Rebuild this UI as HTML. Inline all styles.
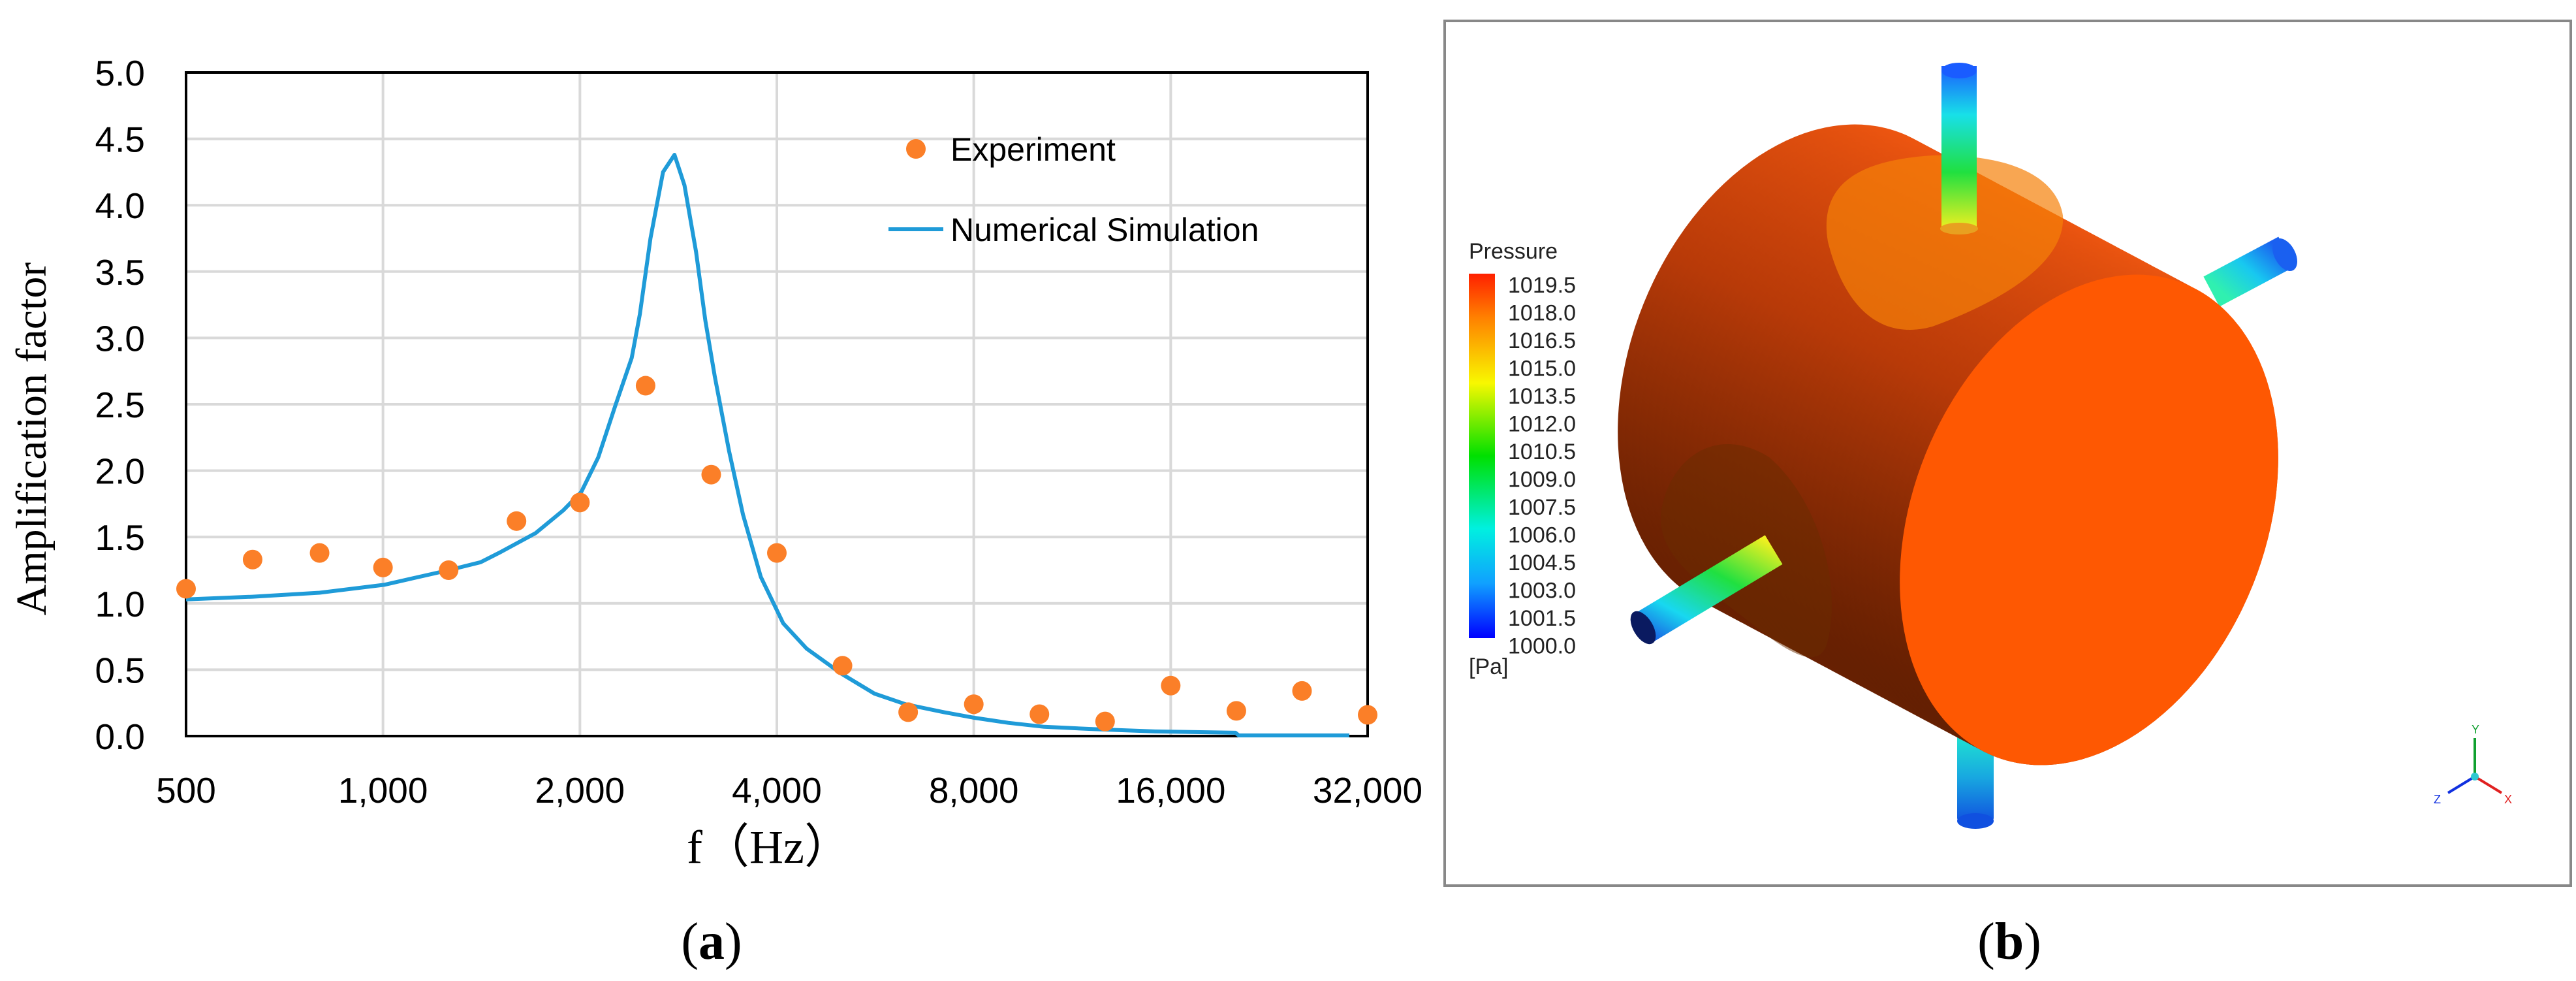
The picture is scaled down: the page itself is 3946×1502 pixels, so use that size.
<!DOCTYPE html>
<html><head><meta charset="utf-8"><style>
html,body{margin:0;padding:0;background:#fff}
svg{display:block}
</style></head><body>
<svg id="fig" width="3946" height="1502" viewBox="0 0 3946 1502" xmlns="http://www.w3.org/2000/svg">
<defs>
<linearGradient id="sideGrad" gradientUnits="userSpaceOnUse" x1="3000" y1="300" x2="2650" y2="1050">
<stop offset="0" stop-color="#ec5510"/><stop offset="0.45" stop-color="#b83a08"/><stop offset="1" stop-color="#4e1800"/>
</linearGradient>
<linearGradient id="pipeV" x1="0" y1="0" x2="0" y2="1">
<stop offset="0" stop-color="#1a5cff"/><stop offset="0.3" stop-color="#18e0e8"/><stop offset="0.65" stop-color="#20e040"/><stop offset="1" stop-color="#f0f020"/>
</linearGradient>
<linearGradient id="pipeB" x1="0" y1="0" x2="0" y2="1">
<stop offset="0" stop-color="#20e8d0"/><stop offset="0.5" stop-color="#18a8e0"/><stop offset="1" stop-color="#1050e0"/>
</linearGradient>
<linearGradient id="pipeL" gradientUnits="userSpaceOnUse" x1="2508" y1="963" x2="2709" y2="847">
<stop offset="0" stop-color="#1a40e0"/><stop offset="0.3" stop-color="#18d8f0"/><stop offset="0.65" stop-color="#20e040"/><stop offset="1" stop-color="#f0f020"/>
</linearGradient>
<linearGradient id="pipeR" gradientUnits="userSpaceOnUse" x1="3397" y1="433" x2="3498" y2="395">
<stop offset="0" stop-color="#30f0b0"/><stop offset="0.5" stop-color="#18c8f0"/><stop offset="1" stop-color="#1a60f0"/>
</linearGradient>
<linearGradient id="cbar" x1="0" y1="0" x2="0" y2="1">
<stop offset="0" stop-color="#ff2000"/><stop offset="0.12" stop-color="#ff8000"/><stop offset="0.3" stop-color="#f8f800"/><stop offset="0.5" stop-color="#00e000"/><stop offset="0.7" stop-color="#00f0e0"/><stop offset="0.85" stop-color="#10a0ff"/><stop offset="1" stop-color="#0000ff"/>
</linearGradient>
<clipPath id="bodyClip"><path id="bodyClipPath" d=""/></clipPath>
</defs>

<g id="chartA">
<g id="grid"></g>
<rect x="285" y="111" width="1810" height="1016" fill="none" stroke="#000" stroke-width="4"/>
<g id="yticks" font-family="Liberation Sans, sans-serif" font-size="55" text-anchor="end"></g>
<g id="xticks" font-family="Liberation Sans, sans-serif" font-size="55" text-anchor="middle"></g>
<path id="simLine" fill="none" stroke="#1f9bd8" stroke-width="6" stroke-linejoin="round"/>
<g id="expPts" fill="#fb7f28"></g>
<g font-family="Liberation Sans, sans-serif" font-size="50">
<circle cx="1403" cy="228" r="15" fill="#fb7f28"/>
<text x="1456" y="246">Experiment</text>
<line x1="1361" y1="351" x2="1445" y2="351" stroke="#1f9bd8" stroke-width="6"/>
<text x="1456" y="369">Numerical Simulation</text>
</g>
<text transform="translate(70,672) rotate(-90)" text-anchor="middle" font-family="Liberation Serif, serif" font-size="66">Amplification  factor</text>
<text x="1178" y="1321" text-anchor="middle" font-family="Liberation Serif, serif" font-size="72">f（Hz）</text>
<text x="1090" y="1468" text-anchor="middle" font-family="Liberation Serif, serif" font-size="80">(<tspan font-weight="bold">a</tspan>)</text>
</g>

<g id="panelB">
<rect x="2213" y="32" width="1725" height="1324" fill="#fff" stroke="#888" stroke-width="4"/>
<rect x="2998" y="1120" width="56" height="140" rx="8" fill="url(#pipeB)"/>
<ellipse cx="3026" cy="1257" rx="28" ry="12" fill="#1050e0"/>
<rect x="3380" y="390" width="130" height="52" fill="url(#pipeR)" transform="rotate(-28 3445 416)"/>
<ellipse cx="3500" cy="390" rx="16" ry="27" fill="#1a60f0" transform="rotate(-28 3500 390)"/>
<g id="body"></g>
<path d="M2800,370 C2785,280 2850,245 2960,238 C3080,236 3150,270 3160,330 C3165,400 3070,460 2960,500 C2880,522 2825,470 2800,370 Z" fill="#f58008" opacity="0.7"/>
<path d="M2545,780 C2560,700 2630,650 2710,700 C2790,770 2820,900 2800,980 C2790,1030 2740,1000 2690,960 C2600,890 2535,850 2545,780 Z" fill="#6a2c00" opacity="0.5"/>
<ellipse cx="3200" cy="796" rx="270" ry="390" fill="#fe5802" transform="rotate(22 3200 796)"/>
<rect x="2974" y="101" width="54" height="250" fill="url(#pipeV)"/>
<ellipse cx="3001" cy="108" rx="27" ry="12" fill="#1a5cff"/>
<ellipse cx="3001" cy="350" rx="29" ry="9" fill="#e8a020"/>
<rect x="2505" y="880" width="230" height="52" fill="url(#pipeL)" transform="rotate(-31 2610 906)"/>
<ellipse cx="2517" cy="961" rx="15" ry="28" fill="#0a1a60" transform="rotate(-31 2517 961)"/>
<text x="2250" y="396" font-family="Liberation Sans, sans-serif" font-size="34" fill="#222">Pressure</text>
<rect x="2250" y="419" width="40" height="558" fill="url(#cbar)"/>
<g id="cbLabels" font-family="Liberation Sans, sans-serif" font-size="34" fill="#222"></g>
<text x="2250" y="1032" font-family="Liberation Sans, sans-serif" font-size="34" fill="#222">[Pa]</text>
<g stroke-width="4">
<line x1="3791" y1="1189" x2="3791" y2="1130" stroke="#10a030"/>
<line x1="3791" y1="1189" x2="3832" y2="1214" stroke="#e02020"/>
<line x1="3791" y1="1189" x2="3750" y2="1214" stroke="#1030e0"/>
<circle cx="3791" cy="1189" r="6" fill="#30c8d0"/>
<text x="3786" y="1123" font-family="Liberation Sans, sans-serif" font-size="18" fill="#10a030">Y</text>
<text x="3836" y="1230" font-family="Liberation Sans, sans-serif" font-size="18" fill="#e02020">X</text>
<text x="3728" y="1230" font-family="Liberation Sans, sans-serif" font-size="18" fill="#1030e0">Z</text>
</g>
<text x="3078" y="1468" text-anchor="middle" font-family="Liberation Serif, serif" font-size="80">(<tspan font-weight="bold">b</tspan>)</text>
</g>
</svg>
<script>
const yTicks = [0, 0.5, 1.0, 1.5, 2.0, 2.5, 3.0, 3.5, 4.0, 4.5, 5.0];
const xTicks = [500, 1000, 2000, 4000, 8000, 16000, 32000];
const xTickLabels = ["500", "1,000", "2,000", "4,000", "8,000", "16,000", "32,000"];
const expFreq = [500, 632, 800, 1000, 1260, 1600, 2000, 2520, 3175, 4000, 5040, 6350, 8000, 10080, 12700, 16000, 20160, 25400, 32000];
const expAmp = [1.11, 1.33, 1.38, 1.27, 1.25, 1.62, 1.76, 2.64, 1.97, 1.38, 0.53, 0.18, 0.24, 0.165, 0.11, 0.38, 0.19, 0.34, 0.16];
const simFreq = [500, 632, 800, 1004, 1260, 1410, 1504, 1712, 1885, 2010, 2133, 2262, 2400, 2470, 2564, 2680, 2790, 2890, 3010, 3110, 3215, 3380, 3550, 3780, 4090, 4440, 5020, 5640, 6290, 7200, 7970, 9030, 10250, 12470, 15140, 20100, 20330, 30000];
const simAmp = [1.03, 1.05, 1.08, 1.14, 1.25, 1.31, 1.38, 1.53, 1.70, 1.84, 2.10, 2.48, 2.85, 3.18, 3.75, 4.25, 4.38, 4.15, 3.65, 3.13, 2.71, 2.15, 1.67, 1.20, 0.85, 0.66, 0.47, 0.32, 0.24, 0.18, 0.14, 0.10, 0.07, 0.05, 0.035, 0.025, 0.005, 0.005];
const cbValues = ["1019.5","1018.0","1016.5","1015.0","1013.5","1012.0","1010.5","1009.0","1007.5","1006.0","1004.5","1003.0","1001.5","1000.0"];

const NS = "http://www.w3.org/2000/svg";
const X0 = 285, X1 = 2095, Y0 = 1127, Y1 = 111;
function xs(f){ return X0 + (Math.log2(f/500)/6)*(X1-X0); }
function ys(v){ return Y0 - (v/5)*(Y0-Y1); }
function mk(tag, attrs, parent){ const e=document.createElementNS(NS,tag); for(const k in attrs) e.setAttribute(k, attrs[k]); parent.appendChild(e); return e; }

const grid = document.getElementById('grid');
yTicks.forEach(v=>{
  if (v===0||v===5) return;
  const l = mk('line',{x1:X0,x2:X1,y1:ys(v),y2:ys(v),stroke:'#d9d9d9','stroke-width':4},grid);
  
  
});
xTicks.forEach(f=>{
  if (f===500||f===32000) return;
  const l = mk('line',{x1:xs(f),x2:xs(f),y1:Y1,y2:Y0,stroke:'#d9d9d9','stroke-width':4},grid);
  
  
});
const yt = document.getElementById('yticks');
yTicks.forEach(v=>{
  const t = mk('text',{x:222,y:ys(v)+20},yt);
  t.textContent = v.toFixed(1);
  
  
});
const xt = document.getElementById('xticks');
xTicks.forEach((f,i)=>{
  const t = mk('text',{x:xs(f),y:1229},xt);
  t.textContent = xTickLabels[i];
  
  
});
document.getElementById('simLine').setAttribute('d', simFreq.map((f,i)=>(i?'L':'M')+xs(f).toFixed(1)+','+ys(simAmp[i]).toFixed(1)).join(' '));
const ep = document.getElementById('expPts');
expFreq.forEach((f,i)=>{
  const c = mk('circle',{cx:xs(f),cy:ys(expAmp[i]),r:15},ep);
  
  
});
const cb = document.getElementById('cbLabels');
cbValues.forEach((s,i)=>{
  const t = mk('text',{x:2310,y:448+i*42.5},cb);
  t.textContent = s;
  
  
});
const body = document.getElementById('body');
for (let k=0;k<=40;k++){
  const t=k/40;
  const cx = 2768 + t*(3200-2768), cy = 566 + t*(796-566);
  const e = mk('ellipse',{cx:cx,cy:cy,rx:270,ry:390,fill:'url(#sideGrad)',transform:'rotate(22 '+cx+' '+cy+')'},body);
  
  
}
</script>
</body></html>
